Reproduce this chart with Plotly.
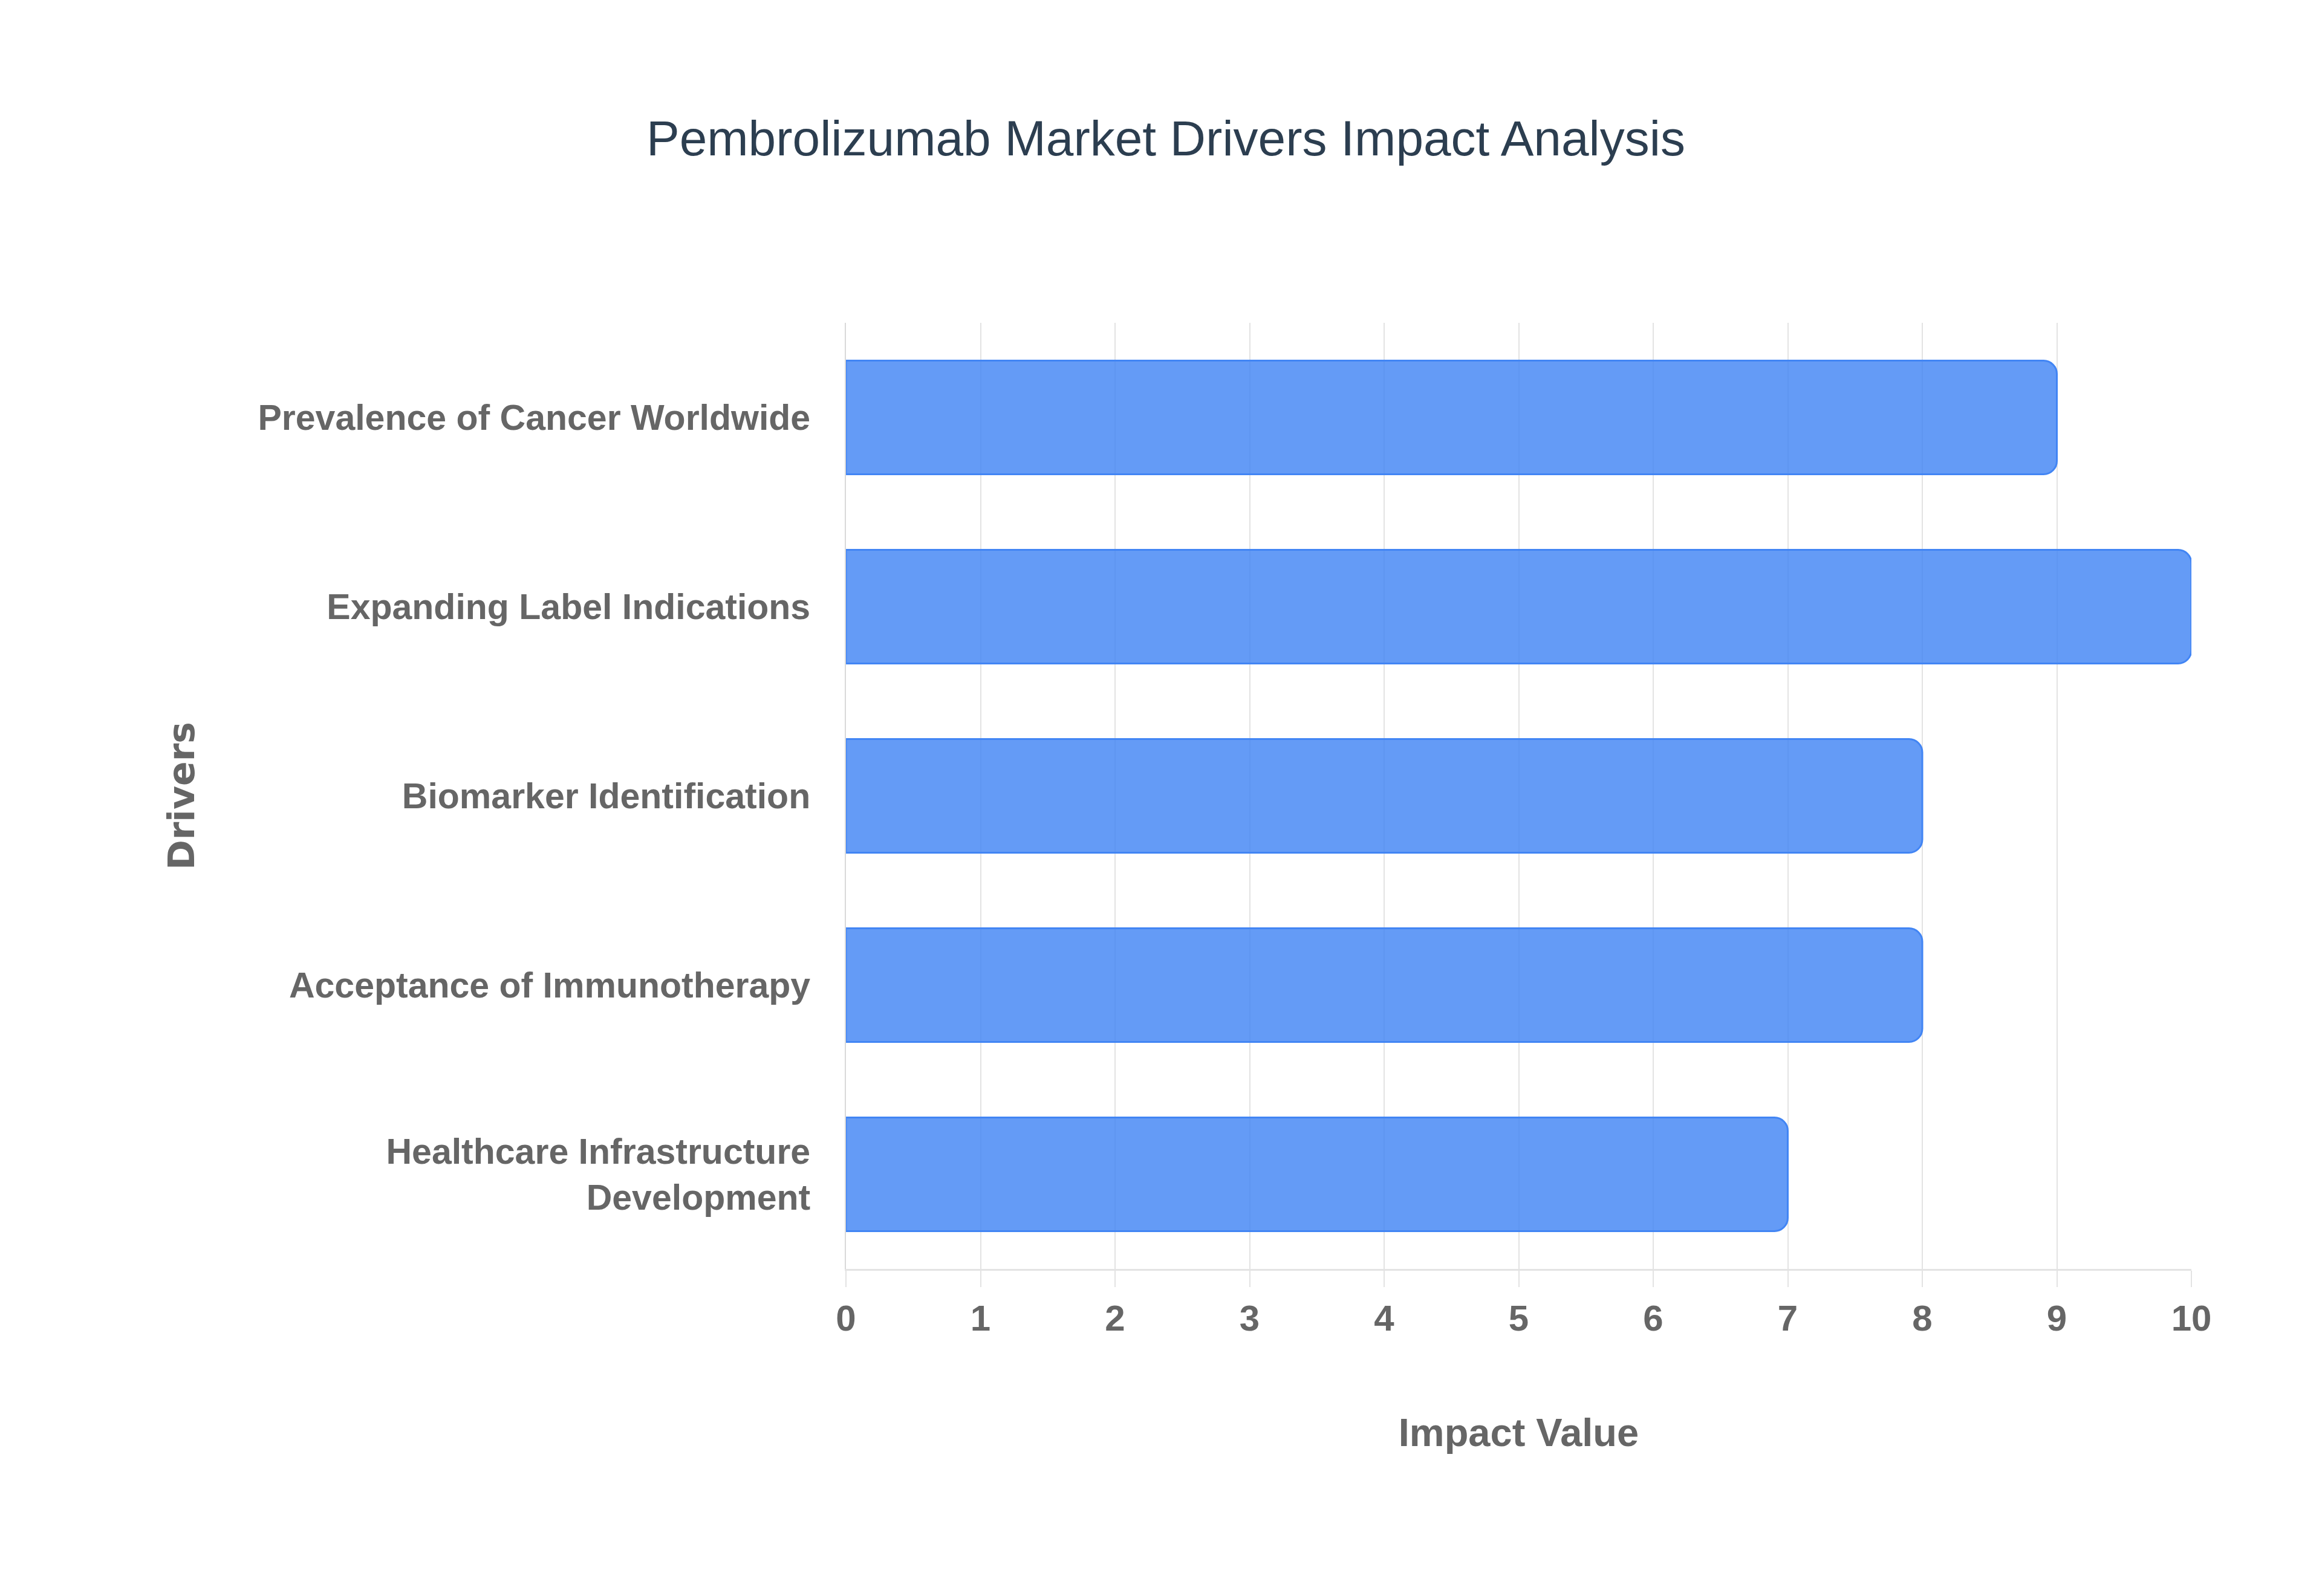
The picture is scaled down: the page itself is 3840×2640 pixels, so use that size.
import plotly.graph_objects as go

# drivers listed bottom to top (plotly draws categories from the bottom)
drivers = [
    "Healthcare Infrastructure<br>Development",
    "Acceptance of Immunotherapy",
    "Biomarker Identification",
    "Expanding Label Indications",
    "Prevalence of Cancer Worldwide",
]
impact = [7, 8, 8, 10, 9]

x_ticks = list(range(0, 11))

fig = go.Figure()

fig.add_trace(go.Bar(
    x=impact,
    y=drivers,
    orientation="h",
    marker=dict(
        color="rgba(66,133,244,0.82)",
        line=dict(color="rgba(66,133,244,1)", width=3),
        cornerradius=22,
    ),
    showlegend=False,
))

fig.update_layout(
    width=3840,
    height=2640,
    paper_bgcolor="white",
    plot_bgcolor="white",
    margin=dict(l=1391, r=224, t=526, b=549),
    bargap=0.4,
    title=dict(
        text="Pembrolizumab Market Drivers Impact Analysis",
        x=0.5,
        xanchor="center",
        y=1 - 220 / 2640,
        yanchor="middle",
        font=dict(family="Liberation Sans, Arial", size=82, color="#2c3e50"),
    ),
)

fig.update_xaxes(
    range=[0, 10],
    tickvals=x_ticks,
    showgrid=True,
    gridcolor="#e3e3e3",
    gridwidth=2,
    zeroline=False,
    showline=True,
    linecolor="#e3e3e3",
    linewidth=3,
    ticks="outside",
    ticklen=27,
    tickwidth=2,
    tickcolor="#e3e3e3",
    tickfont=dict(family="Liberation Sans, Arial", size=60, color="#666666", weight="bold"),
    title=dict(
        text="Impact Value",
        standoff=134,
        font=dict(family="Liberation Sans, Arial", size=65, color="#666666", weight="bold"),
    ),
    automargin=False,
)

fig.update_yaxes(
    showgrid=False,
    zeroline=False,
    showline=True,
    linecolor="#d9d9d9",
    linewidth=2,
    ticks="",
    ticklabelstandoff=45,
    tickfont=dict(family="Liberation Sans, Arial", size=59, color="#666666", weight="bold"),
    title=dict(
        text="Drivers",
        standoff=85,
        font=dict(family="DejaVu Sans", size=60, color="#666666", weight="bold"),
    ),
    automargin=False,
)

fig.write_html("out.html")
